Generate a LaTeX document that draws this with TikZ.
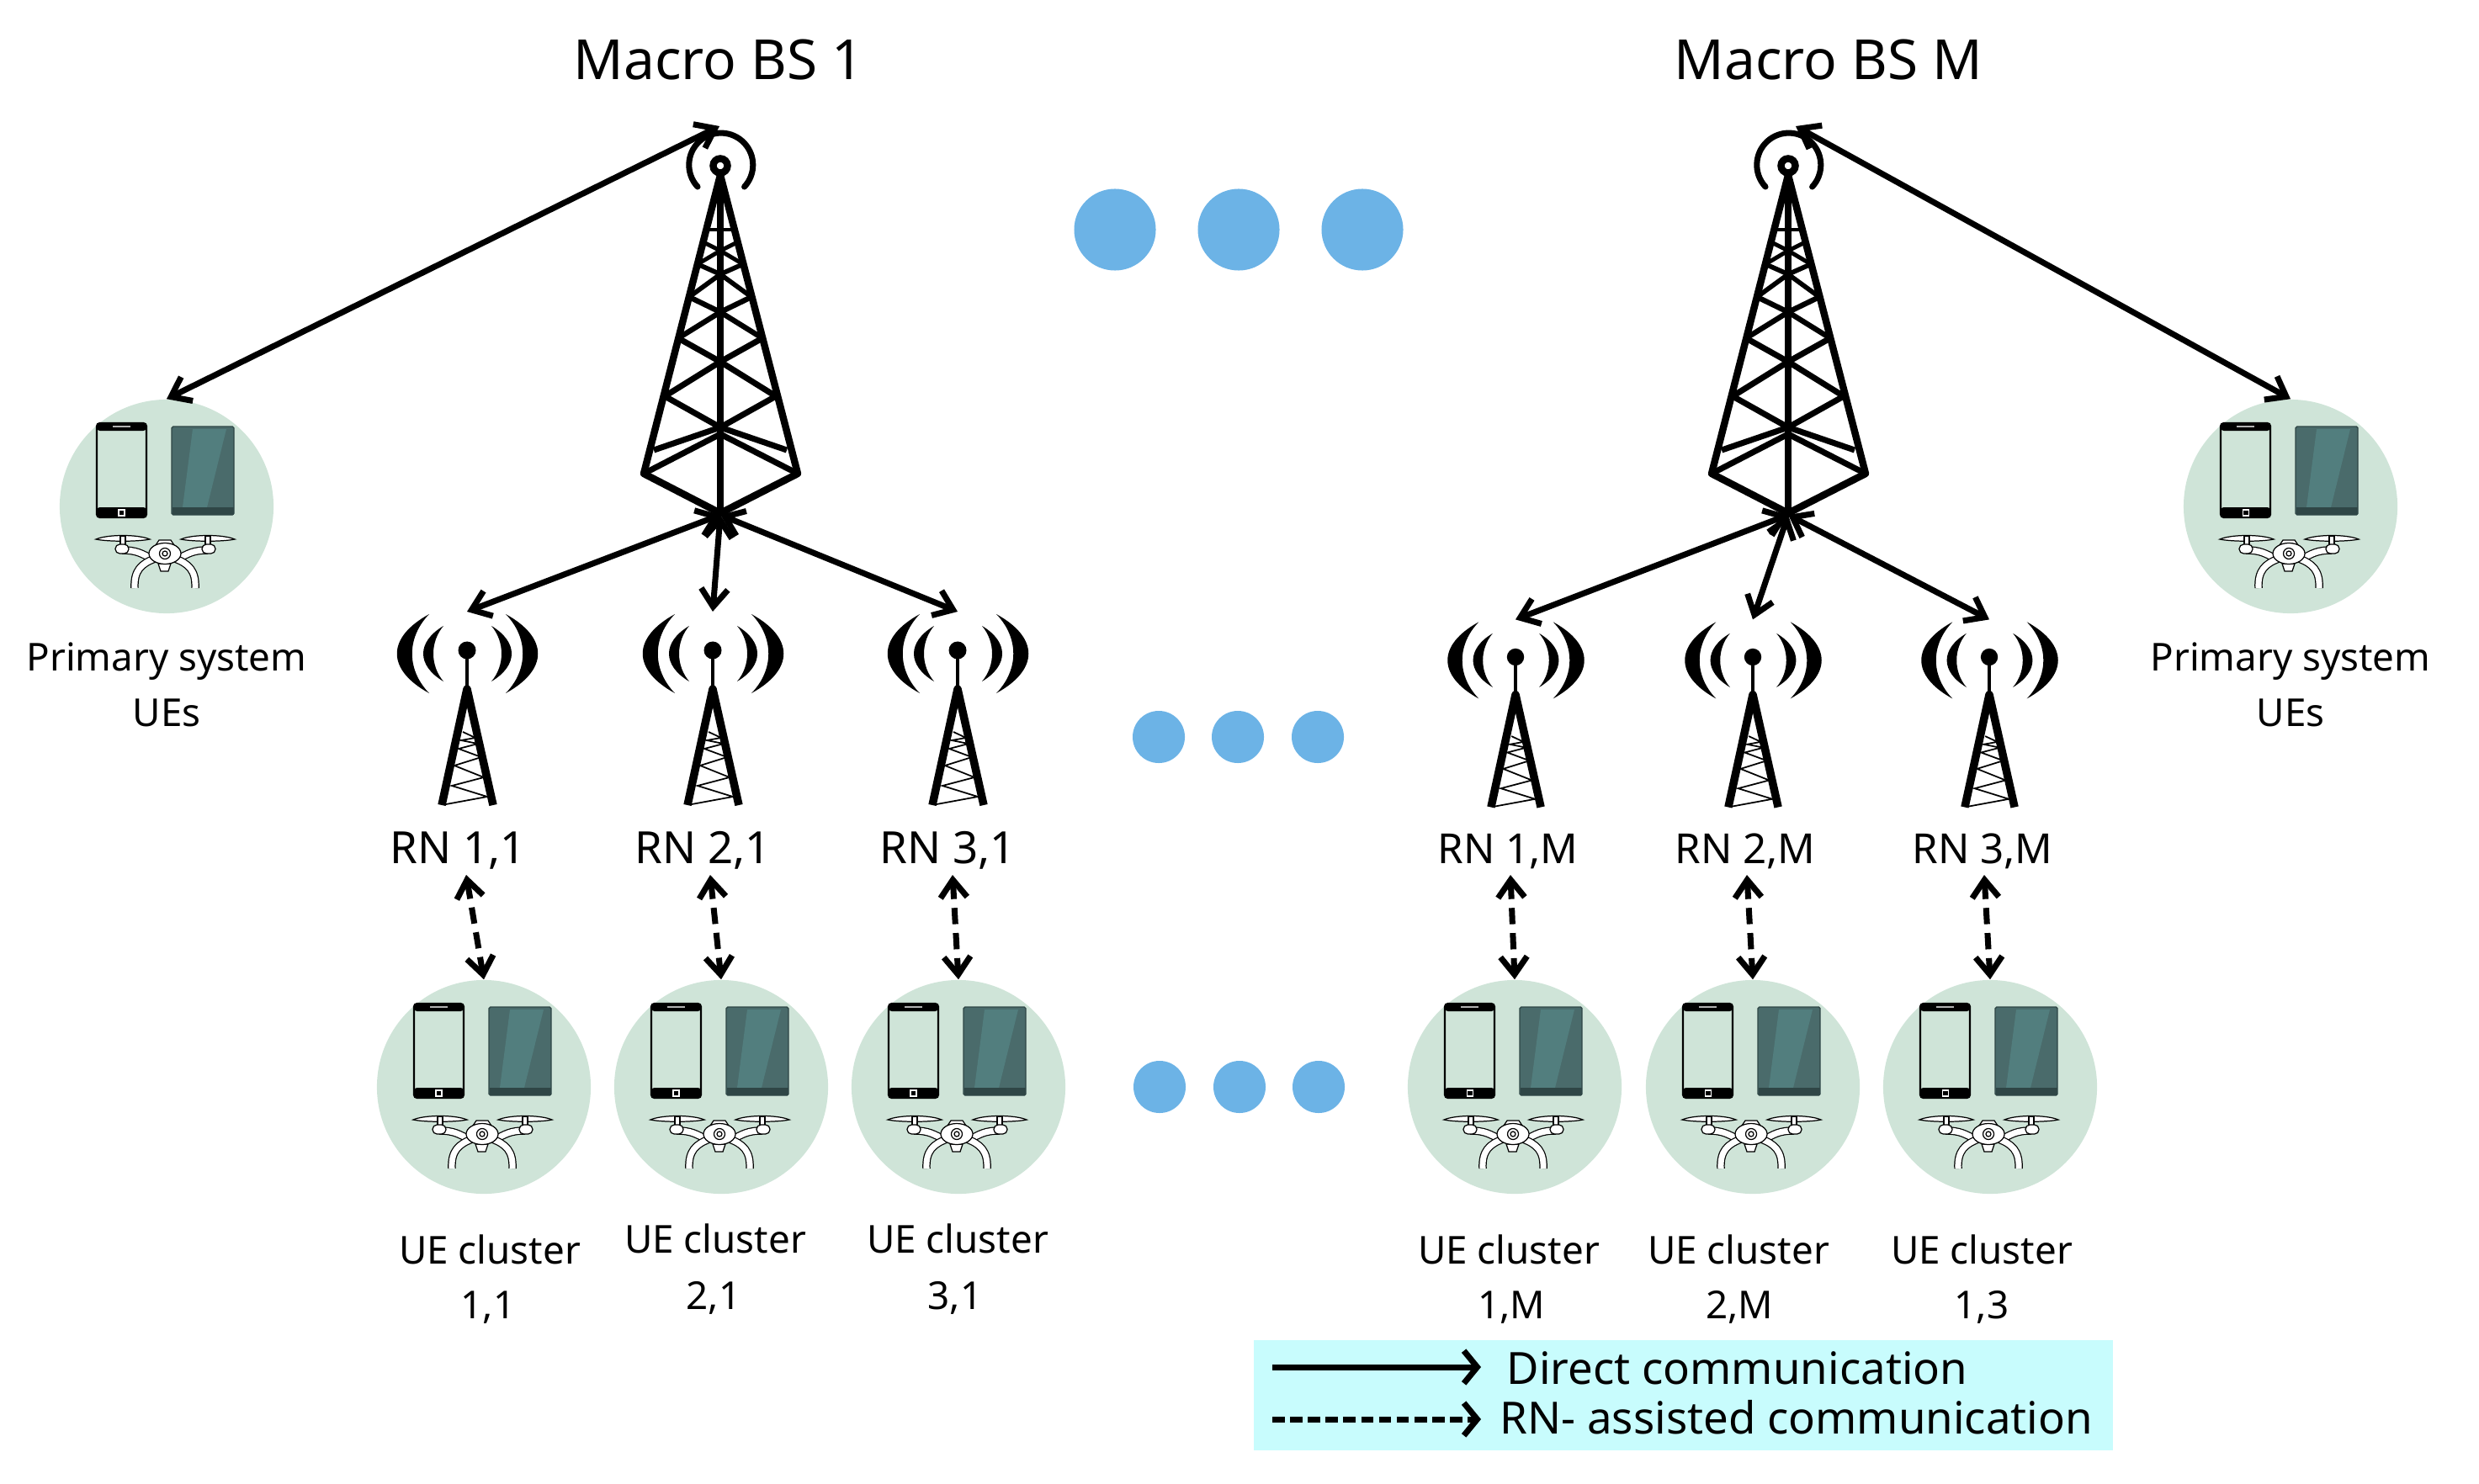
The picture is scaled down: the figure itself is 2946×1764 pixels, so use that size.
\documentclass[tikz,border=0pt]{standalone}
\usepackage{fontspec}
\setmainfont{Noto Sans}
\usetikzlibrary{arrows.meta}
\definecolor{discgreen}{HTML}{CFE4D8}
\definecolor{dotblue}{HTML}{6CB3E6}
\definecolor{legendcyan}{HTML}{C8FCFD}
\definecolor{tabletdark}{HTML}{4A6B6B}
\definecolor{tabletlight}{HTML}{527E7E}
\definecolor{tabletedge}{HTML}{2F4646}
\begin{document}
\begin{tikzpicture}[y=-0.01cm,x=0.01cm]
        \tikzset{
            uedisc/.style={circle,fill=discgreen,minimum size=2.54cm,inner sep=0pt},
            bluedot/.style={circle,fill=dotblue,inner sep=0pt},
            bigdot/.style={bluedot,minimum size=0.97cm},
            smalldot/.style={bluedot,minimum size=0.62cm},
            lab/.style={anchor=base,inner sep=0pt,font=\fontsize{13}{15}\selectfont},
            rnlab/.style={lab,font=\fontsize{15}{17}\selectfont},
            rnmlab/.style={lab,font=\fontsize{14}{16}\selectfont},
            titlelab/.style={lab,font=\fontsize{18.7}{21}\selectfont},
            legendlab/.style={anchor=base west,inner sep=0pt,font=\fontsize{15}{17}\selectfont},
            direct/.style={line width=2pt,<->,>={Straight Barb[length=6pt,width=9pt]}},
            relay/.style={direct,dash pattern=on 5.5pt off 3pt},
            legendline/.style={line width=2pt,->,>={Straight Barb[length=4.5pt,width=11pt]}},
            droneline/.style={draw=black,line width=0.35pt,double=white,double distance=2pt},
            dronepart/.style={draw=black,fill=white,line width=0.35pt},
            bstower/.pic={
                \coordinate (-top) at (-1,-460);
                \coordinate (-foot) at (0,2);
                \draw[line width=2.4pt,line join=round] (-91,-47) -- (0,-402) -- (92,-47) -- (0,0) -- cycle;
                \draw[line width=2.1pt] (0,-402) -- (0,0);
                \draw[line width=2pt] (-91,-47) -- (0,-94) -- (92,-47);
                \draw[line width=2pt] (-79,-75) -- (0,-102) -- (79,-75);
                \draw[line width=2pt] (-66,-139) -- (0,-102);
                \draw[line width=2pt] (66,-139) -- (0,-102);
                \draw[line width=2pt] (-50,-208) -- (0,-180) -- (66,-139);
                \draw[line width=2pt] (50,-208) -- (0,-180) -- (-66,-139);
                \draw[line width=1.8pt] (-37,-257) -- (0,-239) -- (50,-208);
                \draw[line width=1.8pt] (37,-257) -- (0,-239) -- (-50,-208);
                \draw[line width=1.6pt] (-27,-296) -- (0,-284) -- (37,-257);
                \draw[line width=1.6pt] (27,-296) -- (0,-284) -- (-37,-257);
                \draw[line width=1.4pt] (-20,-322) -- (0,-312) -- (27,-296);
                \draw[line width=1.4pt] (20,-322) -- (0,-312) -- (-27,-296);
                \draw[line width=1.4pt] (-16,-337) -- (16,-337);
                \draw[line width=2.4pt,fill=white] (0,-413) circle (0.085cm);
                \draw[line width=2pt,line cap=round] (-27,-388) arc[start angle=137,end angle=403,radius=38];
            },
            rntower/.pic={
                \coordinate (-tip) at (0,-46);
                \fill (0,0) circle (0.105cm);
                \draw[line width=1.2pt] (0,0) -- (0,46);
                \draw[line width=2.7pt,line join=round] (-30,184) -- (0,46) -- (31,184);
                \draw[line width=0.5pt] (-25,183) -- (24,174) -- (-18,161) -- (20,151) -- (-15,137) -- (17,127) -- (-10,117) -- (13,111) -- (-7,107) -- (10,104) -- (-5,97);
                % crescents left and right
                \fill (-45,-43) .. controls (-96,-15) and (-96,23) .. (-45,51) .. controls (-72,23) and (-72,-15) .. cycle;
                \fill (-28,-29) .. controls (-60,-10) and (-60,18) .. (-28,37) .. controls (-44,18) and (-44,-10) .. cycle;
                \fill (46,-43) .. controls (97,-15) and (97,23) .. (46,51) .. controls (73,23) and (73,-15) .. cycle;
                \fill (29,-29) .. controls (61,-10) and (61,18) .. (29,37) .. controls (45,18) and (45,-10) .. cycle;
            },
            uedevices/.pic={
                % phone
                \draw[line width=0.6pt,rounded corners=1pt] (-83,-99) rectangle (-24,13);
                \fill[rounded corners=1pt] (-83,-99) rectangle (-24,-90);
                \fill[rounded corners=1pt] (-83,1) rectangle (-24,13);
                \draw[line width=0.3pt,white!70!black] (-64,-95) -- (-43,-95);
                \draw[line width=0.3pt,white] (-57,4) rectangle (-50,11);
                % tablet
                \draw[draw=tabletedge,fill=tabletdark,line width=0.4pt,rounded corners=0.5pt] (6,-95) rectangle (80,10);
                \fill[tabletlight] (31,-92) -- (71,-92) -- (48,1) -- (19,1) -- cycle;
                \fill[tabletedge] (6.5,1) rectangle (79.5,9.5);
                % drone arms and legs
                \draw[droneline] (-53,52) .. controls (-35,52) and (-30,56) .. (-16,63);
                \draw[droneline] (49,52) .. controls (31,52) and (26,56) .. (12,63);
                \draw[droneline] (-14,62) .. controls (-30,68) and (-39,76) .. (-38,97);
                \draw[droneline] (10,62) .. controls (26,68) and (35,76) .. (34,97);
                \draw[dronepart] (-84,39) .. controls (-70,33) and (-34,33) .. (-20,39) .. controls (-34,42) and (-70,42) .. cycle;
                \draw[dronepart] (17,39) .. controls (31,33) and (67,33) .. (81,39) .. controls (67,42) and (31,42) .. cycle;
                \draw[dronepart] (-55,35) rectangle (-49,46);
                \draw[dronepart] (46,35) rectangle (52,46);
                \draw[dronepart,rounded corners=1.5pt] (-61,45) rectangle (-45,56);
                \draw[dronepart,rounded corners=1.5pt] (42,45) rectangle (58,56);
                \draw[dronepart] (-13,46) -- (-9,40) -- (5,40) -- (9,46) -- cycle;
                \draw[dronepart] (-10,68) -- (5,68) -- (2,77) -- (-7,77) -- cycle;
                \draw[dronepart] (-2,56) ellipse (0.19cm and 0.125cm);
                \draw[dronepart] (-2,56) circle (0.065cm);
                \draw[dronepart] (-2,56) circle (0.03cm);
            }
        }
        \useasboundingbox (0,0) rectangle (2946,1764);

        \node[titlelab] (bs1lab) at (854,95) {Macro BS 1};
        \node[titlelab] (bsmlab) at (2173,95) {Macro BS M};

        \pic (bs1) at (856,610) {bstower};
        \pic (bsm) at (2125,610) {bstower};
        \coordinate (bsmtop) at (2134,150);

        \node[bigdot] (big1) at (1325,273) {};
        \node[bigdot] (big2) at (1472,273) {};
        \node[bigdot] (big3) at (1619,273) {};
        \node[smalldot] (mid1) at (1377,876) {};
        \node[smalldot] (mid2) at (1471,876) {};
        \node[smalldot] (mid3) at (1566,876) {};
        \node[smalldot] (low1) at (1378,1292) {};
        \node[smalldot] (low2) at (1473,1292) {};
        \node[smalldot] (low3) at (1567,1292) {};

        % primary system UEs
        \node[uedisc] (pue1) at (198,602) {};
        \node[uedisc] (puem) at (2722,602) {};
        \pic at (pue1) {uedevices};
        \pic at (puem) {uedevices};
        \node[lab] (pue1a) at (198,797) {Primary system};
        \node[lab] (pue1b) at (198,863) {UEs};
        \node[lab] (puema) at (2722,797) {Primary system};
        \node[lab] (puemb) at (2722,863) {UEs};

        % relay towers
        \pic (rn11) at (555,773) {rntower};
        \pic (rn21) at (847,773) {rntower};
        \pic (rn31) at (1138,773) {rntower};
        \pic[scale=0.97] (rn1m) at (1801,781) {rntower};
        \pic[scale=0.97] (rn2m) at (2083,781) {rntower};
        \pic[scale=0.97] (rn3m) at (2364,781) {rntower};
        \node[rnlab] (rn11lab) at (544,1026) {RN 1,1};
        \node[rnlab] (rn21lab) at (835,1026) {RN 2,1};
        \node[rnlab] (rn31lab) at (1126,1026) {RN 3,1};
        \node[rnmlab] (rn1mlab) at (1792,1026) {RN 1,M};
        \node[rnmlab] (rn2mlab) at (2074,1026) {RN 2,M};
        \node[rnmlab] (rn3mlab) at (2356,1026) {RN 3,M};

        % clusters
        \node[uedisc] (ue11) at (575,1292) {};
        \node[uedisc] (ue21) at (857,1292) {};
        \node[uedisc] (ue31) at (1139,1292) {};
        \node[uedisc] (ue1m) at (1800,1292) {};
        \node[uedisc] (ue2m) at (2083,1292) {};
        \node[uedisc] (ue3m) at (2365,1292) {};
        \pic at (ue11) {uedevices};
        \pic at (ue21) {uedevices};
        \pic at (ue31) {uedevices};
        \pic at (ue1m) {uedevices};
        \pic at (ue2m) {uedevices};
        \pic at (ue3m) {uedevices};

        \node[lab] (ue11a) at (582,1502) {UE cluster};
        \node[lab] (ue11b) at (580,1567) {1,1};
        \node[lab] (ue21a) at (850,1489) {UE cluster};
        \node[lab] (ue21b) at (848,1556) {2,1};
        \node[lab] (ue31a) at (1138,1489) {UE cluster};
        \node[lab] (ue31b) at (1135,1556) {3,1};
        \node[lab] (ue1ma) at (1793,1502) {UE cluster};
        \node[lab] (ue1mb) at (1796,1567) {1,M};
        \node[lab] (ue2ma) at (2066,1502) {UE cluster};
        \node[lab] (ue2mb) at (2067,1567) {2,M};
        \node[lab] (ue3ma) at (2355,1502) {UE cluster};
        \node[lab] (ue3mb) at (2355,1567) {1,3};

        \draw[direct] (pue1.north) -- (bs1-top);
        \draw[direct] (puem.north) -- (bsmtop);
        \draw[direct] (bs1-foot) -- (rn11-tip);
        \draw[direct] (bs1-foot) -- (rn21-tip);
        \draw[direct] (bs1-foot) -- (rn31-tip);
        \draw[direct] (bsm-foot) -- (rn1m-tip);
        \draw[direct] (bsm-foot) -- (rn2m-tip);
        \draw[direct] (bsm-foot) -- (rn3m-tip);

        \coordinate (rn11up) at (554,1040);
        \coordinate (rn21up) at (844,1040);
        \coordinate (rn31up) at (1132,1040);
        \coordinate (rn1mup) at (1795,1040);
        \coordinate (rn2mup) at (2076,1040);
        \coordinate (rn3mup) at (2358,1040);
        \draw[relay] (rn11up) -- (ue11.north);
        \draw[relay] (rn21up) -- (ue21.north);
        \draw[relay] (rn31up) -- (ue31.north);
        \draw[relay] (rn1mup) -- (ue1m.north);
        \draw[relay] (rn2mup) -- (ue2m.north);
        \draw[relay] (rn3mup) -- (ue3m.north);

        % legend
        \node[fill=legendcyan,minimum width=10.21cm,minimum height=1.31cm,inner sep=0pt] (legend) at (2000.5,1658.5) {};
        \coordinate (directa) at (1512,1625);
        \coordinate (directb) at (1760,1625);
        \coordinate (relaya) at (1512,1687);
        \coordinate (relayb) at (1760,1687);
        \draw[legendline] (directa) -- (directb);
        \draw[legendline,dash pattern=on 4.2pt off 1.8pt] (relaya) -- (relayb);
        \node[legendlab] (directlab) at (1790,1645) {Direct communication};
        \node[legendlab] (relaylab) at (1782,1704) {RN- assisted communication};
    \end{tikzpicture}
\end{document}
